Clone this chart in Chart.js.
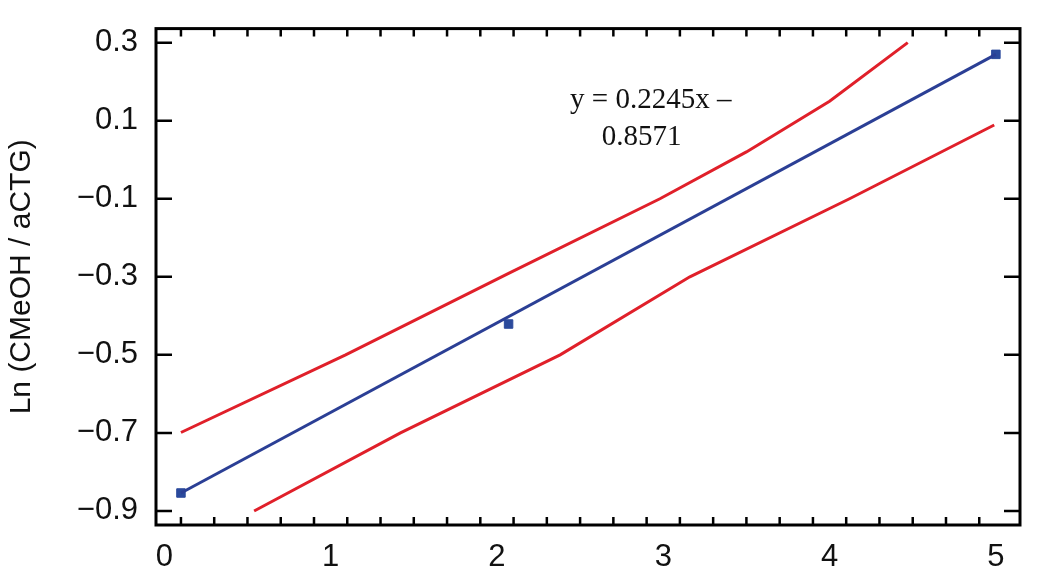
<!DOCTYPE html>
<html>
<head>
<meta charset="utf-8">
<script src="https://cdn.jsdelivr.net/npm/chart.js@4/dist/chart.umd.min.js"></script>
<style>
html, body { margin: 0; padding: 0; background: #fff; }
#wrap { width: 1040px; height: 580px; }
</style>
</head>
<body>
<div id="wrap"><canvas id="chart1"></canvas></div>
<script>
const pointsX = [0.1, 2.07, 5];
const pointsY = [-0.854, -0.421, 0.27];
const fitX = [0.1, 5];
const fitY = [-0.854, 0.27];
const upperX = [0.1, 1.09, 2.07, 2.98, 3.5, 4.0, 4.47];
const upperY = [-0.699, -0.5, -0.291, -0.1, 0.02, 0.15, 0.3];
const lowerX = [0.54, 1.42, 2.38, 3.16, 4.12, 4.99];
const lowerY = [-0.9, -0.7, -0.5, -0.3, -0.1, 0.089];
const xLabels = [0, 1, 2, 3, 4, 5];
const yLabels = [-0.9, -0.7, -0.5, -0.3, -0.1, 0.1, 0.3];
const xMinorTicks = [0.1, 0.3, 0.5, 0.7, 0.9, 1.1, 1.3, 1.5, 1.7, 1.9, 2.1, 2.3, 2.5, 2.7, 2.9, 3.1, 3.3, 3.5, 3.7, 3.9, 4.1, 4.3, 4.5, 4.7, 4.9];

const zip = (xs, ys) => xs.map((x, i) => ({ x: x, y: ys[i] }));

const fmt = (v) => {
    const s = Math.abs(v).toFixed(1);
    return v < 0 ? '\u2212' + s : s;
};

// inward ticks on all four sides + equation text
const extras = {
    id: 'extras',
    afterDraw(chart) {
        const ctx = chart.ctx;
        const a = chart.chartArea;
        const xs = chart.scales.x, ys = chart.scales.y;
        ctx.save();
        ctx.strokeStyle = '#000';
        ctx.lineWidth = 2.5;
        ctx.beginPath();
        xMinorTicks.forEach((t) => {
            const px = xs.getPixelForValue(t);
            ctx.moveTo(px, a.bottom); ctx.lineTo(px, a.bottom - 8);
            ctx.moveTo(px, a.top); ctx.lineTo(px, a.top + 8);
        });
        yLabels.forEach((t) => {
            const py = ys.getPixelForValue(t);
            ctx.moveTo(a.left, py); ctx.lineTo(a.left + 16, py);
            ctx.moveTo(a.right, py); ctx.lineTo(a.right - 16, py);
        });
        ctx.stroke();
        ctx.lineWidth = 3;
        ctx.strokeRect(a.left, a.top, a.right - a.left, a.bottom - a.top);
        ctx.fillStyle = '#111';
        ctx.font = '29px "Liberation Serif", serif';
        ctx.textBaseline = 'middle';
        ctx.textAlign = 'left';
        ctx.fillText('y = 0.2245x \u2013', xs.getPixelForValue(2.44), ys.getPixelForValue(0.152));
        ctx.textAlign = 'center';
        ctx.fillText('0.8571', xs.getPixelForValue(2.87), ys.getPixelForValue(0.058));
        ctx.restore();
    }
};

const chart1 = document.getElementById('chart1').getContext('2d');
const Chart1 = new Chart(chart1, {
    type: 'scatter',
    data: {
        datasets: [
            { data: zip(upperX, upperY), showLine: true, borderColor: '#e0202a', borderWidth: 3, pointRadius: 0, tension: 0 },
            { data: zip(lowerX, lowerY), showLine: true, borderColor: '#e0202a', borderWidth: 3, pointRadius: 0, tension: 0 },
            { data: zip(fitX, fitY), showLine: true, borderColor: '#2b3f95', borderWidth: 3, pointRadius: 0 },
            { data: zip(pointsX, pointsY), pointStyle: 'rect', pointRadius: 6, backgroundColor: '#2b4a9c', borderColor: '#2b4a9c' }
        ]
    },
    options: {
        responsive: true,
        maintainAspectRatio: false,
        animation: false,
        layout: { padding: { top: 26, right: 20, left: 0, bottom: 0 } },
        plugins: { legend: { display: false }, tooltip: { enabled: false } },
        scales: {
            x: {
                type: 'linear', min: -0.05, max: 5.145,
                afterBuildTicks: (s) => { s.ticks = xLabels.map((v) => ({ value: v })); },
                afterFit: (s) => { s.height = 55; },
                grid: { display: false },
                border: { display: false },
                ticks: { color: '#111', font: { size: 31, family: '"Liberation Sans", Arial' }, padding: 6, maxRotation: 0 }
            },
            y: {
                type: 'linear', min: -0.936, max: 0.336,
                afterBuildTicks: (s) => { s.ticks = yLabels.map((v) => ({ value: v })); },
                afterFit: (s) => { s.width = 156; },
                grid: { display: false },
                border: { display: false },
                title: { display: true, text: 'Ln (CMeOH / aCTG)', color: '#111', font: { size: 30, family: '"Liberation Sans", Arial' }, padding: { bottom: 4 } },
                ticks: { color: '#111', font: { size: 31, family: '"Liberation Sans", Arial' }, padding: 10, callback: (v) => fmt(v) }
            }
        }
    },
    plugins: [extras]
});
</script>
</body>
</html>
